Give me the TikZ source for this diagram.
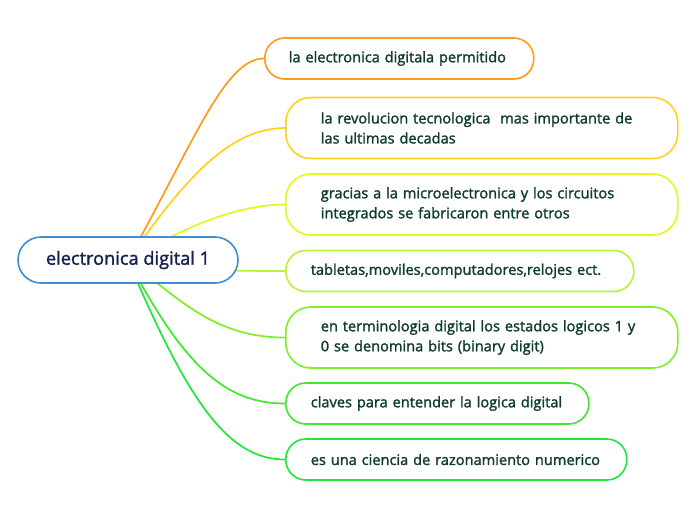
\documentclass[tikz,border=0pt]{standalone}
\usepackage{fontspec}
\setmainfont{Open Sans}[FakeBold=1.6]
\usetikzlibrary{backgrounds}
\definecolor{cOrange}{HTML}{FF9A1A}
\definecolor{cGold}{HTML}{FFD21A}
\definecolor{cLemon}{HTML}{E6F51A}
\definecolor{cLime}{HTML}{B5F532}
\definecolor{cGreenA}{HTML}{7EF024}
\definecolor{cGreenB}{HTML}{3FE82A}
\definecolor{cGreenC}{HTML}{1EE83C}
\definecolor{cBlue}{HTML}{3D8ED2}
\definecolor{txtGreen}{HTML}{0F3D2B}
\definecolor{txtNavy}{HTML}{14234F}
\tikzset{
  topic/.style={draw=#1, line width=1.6pt, fill=white, rounded corners=20pt,
    minimum height=41pt, anchor=west, align=left, text=txtGreen,
    font=\fontsize{14.6}{20}\selectfont, inner ysep=0pt},
  topictwo/.style={topic=#1, minimum height=61pt, rounded corners=25pt},
  link/.style={draw=#1, line width=1.7pt, line cap=round},
}
\begin{document}
\begin{tikzpicture}[x=1pt,y=-1pt]
\useasboundingbox (0,0) rectangle (696,520);
\node[draw=cBlue, line width=1.6pt, fill=white, rounded corners=23pt,
  minimum width=220pt, minimum height=46pt, text=txtNavy,
  font=\fontsize{18.2}{20}\selectfont] (c) at (128,260) {electronica digital 1};
\node[topic=cOrange, inner xsep=24pt, text width=221pt] (b1) at (264,58.5) {la electronica digitala permitido};
\node[topictwo=cGold, inner xsep=35pt, text width=322pt] (b2) at (285,128) {la revolucion tecnologica\ \ mas importante de\\las ultimas decadas};
\node[topictwo=cLemon, inner xsep=35pt, text width=322pt] (b3) at (285,204.5) {gracias a la microelectronica y los circuitos\\integrados se fabricaron entre otros};
\node[topic=cLime, inner xsep=25pt, text width=298pt] (b4) at (285,271) {tabletas,moviles,computadores,relojes ect.};
\node[topictwo=cGreenA, inner xsep=35pt, text width=322pt] (b5) at (285,337.5) {en terminologia digital los estados logicos 1 y\\0 se denomina bits (binary digit)};
\node[topic=cGreenB, inner xsep=25pt, text width=253pt] (b6) at (285,403.5) {claves para entender la logica digital};
\node[topic=cGreenC, inner xsep=25pt, text width=291pt] (b7) at (285,459.5) {es una ciencia de razonamiento numerico};
\begin{scope}[on background layer]
\draw[link=cOrange] (c.center) .. controls +(67,-120) and +(-39,0) .. (b1.west);
\draw[link=cGold] (c.center) .. controls +(57,-82) and +(-55,0) .. (b2.west);
\draw[link=cLemon] (c.center) .. controls +(43,-25) and +(-55,0) .. (b3.west);
\draw[link=cLime] (c.center) .. controls +(52,11) and +(-45,0) .. (b4.west);
\draw[link=cGreenA] (c.center) .. controls +(52,40) and +(-70,0) .. (b5.west);
\draw[link=cGreenB] (c.center) .. controls +(56,106) and +(-60,0) .. (b6.west);
\draw[link=cGreenC] (c.center) .. controls +(62,147) and +(-55,0) .. (b7.west);
\end{scope}
\end{tikzpicture}
\end{document}
